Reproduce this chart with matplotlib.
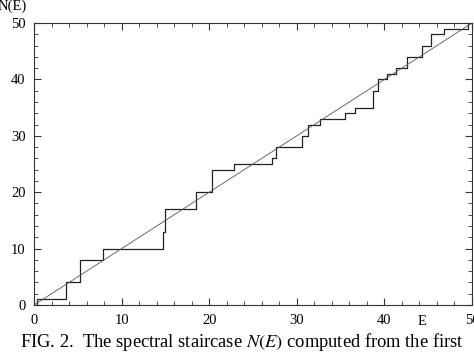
import matplotlib
matplotlib.use("Agg")
import matplotlib.pyplot as plt
from matplotlib.ticker import MultipleLocator

plt.rcParams["font.family"] = ["Liberation Serif", "DejaVu Serif"]
plt.rcParams["mathtext.fontset"] = "stix"

# staircase: energy where a level is crossed, and the count just after it
step_E = [0.3, 3.7, 5.25, 7.9, 14.7, 14.9, 18.5, 20.3, 22.8, 27.2, 27.6, 30.6,
          31.3, 32.6, 35.5, 36.6, 38.7, 39.3, 40.3, 41.3, 42.6, 44.3, 45.3,
          46.8, 49.5]
step_N = [1, 4, 8, 10, 13, 17, 20, 24, 25, 26, 28, 30,
          32, 33, 34, 35, 38, 40, 41, 42, 44, 46, 48,
          49, 50]
ticks = [0, 10, 20, 30, 40, 50]
caption = "FIG. 2.  The spectral staircase $N(E)$ computed from the first"

COLORS = {"stair": "#222222", "diag": "#555555", "frame": "#333333"}

fig = plt.figure(figsize=(4.74, 3.53), dpi=100)
ax = fig.add_axes([34 / 474, 1 - 305 / 353, 438 / 474, 282 / 353])

ax.step([0] + step_E + [50], [0] + step_N + [step_N[-1]], where="post",
        color=COLORS["stair"], lw=0.9)
ax.plot([0, 50], [0, 50], color=COLORS["diag"], lw=0.6)

ax.set_xlim(0, 50); ax.set_ylim(0, 50)
ax.set_xticks(ticks); ax.set_yticks(ticks)
ax.xaxis.set_minor_locator(MultipleLocator(2))
ax.yaxis.set_minor_locator(MultipleLocator(2))
ax.tick_params(which="both", direction="in", top=True, right=True,
               colors=COLORS["frame"], labelcolor="black", labelsize=10.5)
ax.tick_params(which="major", length=5, width=0.8)
ax.tick_params(which="minor", length=3, width=0.6)
ax.tick_params(axis="x", pad=6.5)
ax.tick_params(axis="y", pad=6)
for s in ax.spines.values():
    s.set_color(COLORS["frame"]); s.set_linewidth(0.8)

ax.text(44.3, -2.9, "E", ha="center", va="center", fontsize=10.5)
fig.text(27 / 474, 1.0, "N(E)", ha="right", va="top", fontsize=10.5)
fig.text(20 / 474, 1 - 347 / 353, caption, ha="left", va="baseline", fontsize=13.3)

fig.savefig("out.png", dpi=100)
plt.close(fig)
